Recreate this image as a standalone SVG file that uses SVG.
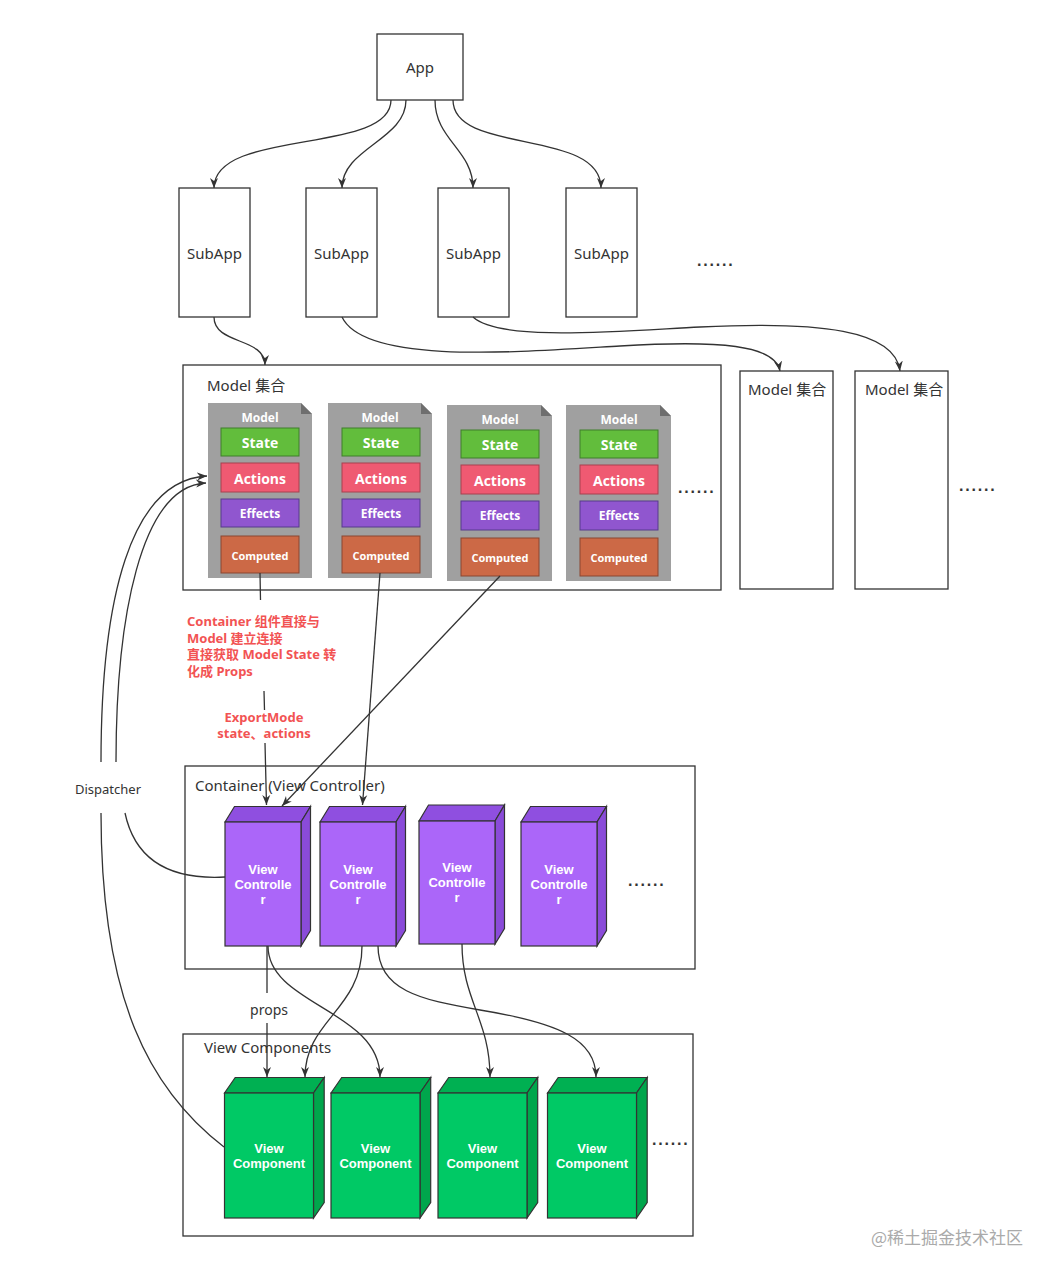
<svg xmlns="http://www.w3.org/2000/svg" width="1056" height="1280" viewBox="0 0 1056 1280">
<defs>
<marker id="arr" viewBox="0 0 10 10" refX="10" refY="5" markerWidth="10" markerHeight="10" markerUnits="userSpaceOnUse" orient="auto"><path d="M0,1 L10,5 L0,9 L3,5 z" fill="#333"/></marker>
<style>
.box{fill:#fff;stroke:#333;stroke-width:1.3}
.lbl{font-family:"Noto Sans","Noto Sans CJK SC",sans-serif;font-size:15px;fill:#333}
.c{text-anchor:middle;dominant-baseline:central}
.edge{fill:none;stroke:#333;stroke-width:1.3}
.card{fill:#a0a0a0}
.fold{fill:#6e6e6e}
.w{font-family:"Open Sans","Noto Sans",sans-serif;font-weight:bold;fill:#fff;text-anchor:middle;dominant-baseline:central}
.b{font-family:"Liberation Sans",Arial,sans-serif;font-weight:bold;font-size:13px;fill:#fff;text-anchor:middle}
.st{fill:#62bd3c;stroke:#3f7f2a;stroke-width:1}
.ac{fill:#ef5a72;stroke:#a8404f;stroke-width:1}
.ef{fill:#9056cf;stroke:#573a8c;stroke-width:1}
.cp{fill:#cc6946;stroke:#8a4630;stroke-width:1}
.vcf{fill:#ab66f9;stroke:#333;stroke-width:1.2}
.vct{fill:#8f4fe0;stroke:#333;stroke-width:1.2}
.vcr{fill:#8a4bd9;stroke:#333;stroke-width:1.2}
.gf{fill:#00c965;stroke:#333;stroke-width:1.2}
.gt{fill:#00b052;stroke:#333;stroke-width:1.2}
.gr{fill:#00a64c;stroke:#333;stroke-width:1.2}
.red{font-family:"Noto Sans","Noto Sans CJK SC",sans-serif;font-weight:bold;font-size:13px;fill:#f25353}
.dots{font-family:"Liberation Sans",sans-serif;font-weight:bold;font-size:16px;fill:#333;letter-spacing:1.8px}
</style>
</defs>
<rect width="1056" height="1280" fill="#fff"/>

<g id="app"><rect class="box" x="377" y="34" width="86" height="66"/><text class="lbl c" x="420" y="67">App</text></g>
<g id="subapp1"><rect class="box" x="179" y="188" width="71" height="129"/><text class="lbl c" x="214.5" y="253">SubApp</text></g>
<g id="subapp2"><rect class="box" x="306" y="188" width="71" height="129"/><text class="lbl c" x="341.5" y="253">SubApp</text></g>
<g id="subapp3"><rect class="box" x="438" y="188" width="71" height="129"/><text class="lbl c" x="473.5" y="253">SubApp</text></g>
<g id="subapp4"><rect class="box" x="566" y="188" width="71" height="129"/><text class="lbl c" x="601.5" y="253">SubApp</text></g>
<text class="dots" x="697" y="266">......</text>

<g id="models-main">
<rect class="box" x="183" y="365" width="538" height="225"/>
<text class="lbl" x="207" y="391">Model 集合</text>
</g>
<g id="models2"><rect class="box" x="740" y="371" width="93" height="218"/><text class="lbl" x="748" y="395">Model 集合</text></g>
<g id="models3"><rect class="box" x="855" y="371" width="93" height="218"/><text class="lbl" x="865" y="395">Model 集合</text></g>
<text class="dots" x="959" y="491">......</text>
<text class="dots" x="678" y="493">......</text>

<g id="model1">
<polygon class="card" points="208,403 301,403 312,414 312,578 208,578"/>
<polygon class="fold" points="301,403 312,414 301,414"/>
<text class="w" x="260" y="417" font-size="12">Model</text>
<rect class="st" x="221" y="428" width="78" height="28"/><text class="w" x="260" y="442" font-size="14">State</text>
<rect class="ac" x="221" y="463" width="78" height="29"/><text class="w" x="260" y="478" font-size="14">Actions</text>
<rect class="ef" x="221" y="499" width="78" height="28"/><text class="w" x="260" y="513" font-size="12">Effects</text>
<rect class="cp" x="221" y="536" width="78" height="37"/><text class="w" x="260" y="555" font-size="11">Computed</text>
</g>
<g id="model2">
<polygon class="card" points="328,403 421,403 432,414 432,578 328,578"/>
<polygon class="fold" points="421,403 432,414 421,414"/>
<text class="w" x="380" y="417" font-size="12">Model</text>
<rect class="st" x="342" y="428" width="78" height="28"/><text class="w" x="381" y="442" font-size="14">State</text>
<rect class="ac" x="342" y="463" width="78" height="29"/><text class="w" x="381" y="478" font-size="14">Actions</text>
<rect class="ef" x="342" y="499" width="78" height="28"/><text class="w" x="381" y="513" font-size="12">Effects</text>
<rect class="cp" x="342" y="536" width="78" height="37"/><text class="w" x="381" y="555" font-size="11">Computed</text>
</g>
<g id="model3">
<polygon class="card" points="447,405 541,405 552,416 552,581 447,581"/>
<polygon class="fold" points="541,405 552,416 541,416"/>
<text class="w" x="500" y="419" font-size="12">Model</text>
<rect class="st" x="461" y="430" width="78" height="28"/><text class="w" x="500" y="444" font-size="14">State</text>
<rect class="ac" x="461" y="465" width="78" height="29"/><text class="w" x="500" y="480" font-size="14">Actions</text>
<rect class="ef" x="461" y="501" width="78" height="29"/><text class="w" x="500" y="515" font-size="12">Effects</text>
<rect class="cp" x="461" y="538" width="78" height="38"/><text class="w" x="500" y="557" font-size="11">Computed</text>
</g>
<g id="model4">
<polygon class="card" points="566,405 660,405 671,416 671,581 566,581"/>
<polygon class="fold" points="660,405 671,416 660,416"/>
<text class="w" x="619" y="419" font-size="12">Model</text>
<rect class="st" x="580" y="430" width="78" height="28"/><text class="w" x="619" y="444" font-size="14">State</text>
<rect class="ac" x="580" y="465" width="78" height="29"/><text class="w" x="619" y="480" font-size="14">Actions</text>
<rect class="ef" x="580" y="501" width="78" height="29"/><text class="w" x="619" y="515" font-size="12">Effects</text>
<rect class="cp" x="580" y="538" width="78" height="38"/><text class="w" x="619" y="557" font-size="11">Computed</text>
</g>

<g id="note">
<text class="red" x="187" y="626">Container 组件直接与</text>
<text class="red" x="187" y="643">Model 建立连接</text>
<text class="red" x="187" y="659">直接获取 Model State 转</text>
<text class="red" x="187" y="676">化成 Props</text>
<text class="red" x="264" y="722" text-anchor="middle">ExportMode</text>
<text class="red" x="264" y="738" text-anchor="middle">state、actions</text>
</g>

<g id="container">
<rect class="box" x="185" y="766" width="510" height="203"/>
<text class="lbl" x="195" y="791">Container (View Controller)</text>
</g>
<g id="vc1">
<polygon class="vct" points="225,822 234.5,806.5 310.5,806.5 301,822"/>
<polygon class="vcr" points="301,822 310.5,806.5 310.5,930.5 301,946"/>
<rect class="vcf" x="225" y="822" width="76" height="124"/>
<text class="b" x="263" y="874">View</text><text class="b" x="263" y="889">Controlle</text><text class="b" x="263" y="904">r</text>
</g>
<g id="vc2">
<polygon class="vct" points="320,822 329.5,806.5 405.5,806.5 396,822"/>
<polygon class="vcr" points="396,822 405.5,806.5 405.5,930.5 396,946"/>
<rect class="vcf" x="320" y="822" width="76" height="124"/>
<text class="b" x="358" y="874">View</text><text class="b" x="358" y="889">Controlle</text><text class="b" x="358" y="904">r</text>
</g>
<g id="vc3">
<polygon class="vct" points="419,821 428.5,805 504.5,805 495,821"/>
<polygon class="vcr" points="495,821 504.5,805 504.5,928.5 495,944"/>
<rect class="vcf" x="419" y="821" width="76" height="123"/>
<text class="b" x="457" y="872">View</text><text class="b" x="457" y="887">Controlle</text><text class="b" x="457" y="902">r</text>
</g>
<g id="vc4">
<polygon class="vct" points="521,822 530.5,806.5 606.5,806.5 597,822"/>
<polygon class="vcr" points="597,822 606.5,806.5 606.5,930.5 597,946"/>
<rect class="vcf" x="521" y="822" width="76" height="124"/>
<text class="b" x="559" y="874">View</text><text class="b" x="559" y="889">Controlle</text><text class="b" x="559" y="904">r</text>
</g>
<text class="dots" x="628" y="886">......</text>

<g id="viewcomponents">
<rect class="box" x="183" y="1034" width="510" height="202"/>
<text class="lbl" x="204" y="1053">View Components</text>
</g>
<g id="vcomp1">
<polygon class="gt" points="224.5,1093 235.2,1077.5 324.2,1077.5 313.5,1093"/>
<polygon class="gr" points="313.5,1093 324.2,1077.5 324.2,1202.5 313.5,1218"/>
<rect class="gf" x="224.5" y="1093" width="89" height="125"/>
<text class="b" x="269" y="1153">View</text><text class="b" x="269" y="1168">Component</text>
</g>
<g id="vcomp2">
<polygon class="gt" points="331,1093 341.7,1077.5 430.7,1077.5 420,1093"/>
<polygon class="gr" points="420,1093 430.7,1077.5 430.7,1202.5 420,1218"/>
<rect class="gf" x="331" y="1093" width="89" height="125"/>
<text class="b" x="375.5" y="1153">View</text><text class="b" x="375.5" y="1168">Component</text>
</g>
<g id="vcomp3">
<polygon class="gt" points="438,1093 448.7,1077.5 537.7,1077.5 527,1093"/>
<polygon class="gr" points="527,1093 537.7,1077.5 537.7,1202.5 527,1218"/>
<rect class="gf" x="438" y="1093" width="89" height="125"/>
<text class="b" x="482.5" y="1153">View</text><text class="b" x="482.5" y="1168">Component</text>
</g>
<g id="vcomp4">
<polygon class="gt" points="547.5,1093 558.2,1077.5 647.2,1077.5 636.5,1093"/>
<polygon class="gr" points="636.5,1093 647.2,1077.5 647.2,1202.5 636.5,1218"/>
<rect class="gf" x="547.5" y="1093" width="89" height="125"/>
<text class="b" x="592" y="1153">View</text><text class="b" x="592" y="1168">Component</text>
</g>
<text class="dots" x="652" y="1145">......</text>

<g id="connectors">
<path class="edge" marker-end="url(#arr)" d="M391,100 C391,155 214,128 214,188"/>
<path class="edge" marker-end="url(#arr)" d="M406,100 C406,140 342,148 342,188"/>
<path class="edge" marker-end="url(#arr)" d="M435,100 C435,140 473,150 473,188"/>
<path class="edge" marker-end="url(#arr)" d="M453,100 C453,155 601,128 601,188"/>
<path class="edge" marker-end="url(#arr)" d="M214,317 C214,345 265,337 265,365"/>
<path class="edge" marker-end="url(#arr)" d="M342,317 C365,365 520,352 620,346 C720,340 775,345 780,371"/>
<path class="edge" marker-end="url(#arr)" d="M473,317 C500,342 620,331 700,327 C820,321 895,330 900,371"/>
<path class="edge" marker-end="url(#arr)" d="M260,573 L260.5,600 M264,691 L264.5,710 M265,743 L266.5,805"/>
<path class="edge" marker-end="url(#arr)" d="M380,573 L362.5,805"/>
<path class="edge" marker-end="url(#arr)" d="M500,576 L282,806"/>
<path class="edge" marker-end="url(#arr)" d="M224,1147 C150,1090 101,1000 101,813 M101,762 C101,600 130,480 207,476"/>
<path class="edge" marker-end="url(#arr)" d="M225,877 C170,880 135,860 125,813 M116,762 C116,620 140,486 206,483"/>
<path class="edge" marker-end="url(#arr)" d="M267,946 L267,993 M267,1023 L267,1077"/>
<path class="edge" marker-end="url(#arr)" d="M268,946 C268,1005 380,1010 380,1077"/>
<path class="edge" marker-end="url(#arr)" d="M362,946 C362,1010 305,1020 305,1077"/>
<path class="edge" marker-end="url(#arr)" d="M378,946 C378,990 420,1000 480,1010 C560,1023 596,1040 596,1077"/>
<path class="edge" marker-end="url(#arr)" d="M462,944 C462,1000 490,1020 490,1077"/>
</g>
<text class="lbl c" x="108" y="789" style="font-size:13px">Dispatcher</text>
<text class="lbl c" x="269" y="1009" style="font-size:14px">props</text>
<text x="1023" y="1244" text-anchor="end" font-family="Noto Sans CJK SC, sans-serif" font-size="17" fill="#aaa">@稀土掘金技术社区</text>
</svg>
